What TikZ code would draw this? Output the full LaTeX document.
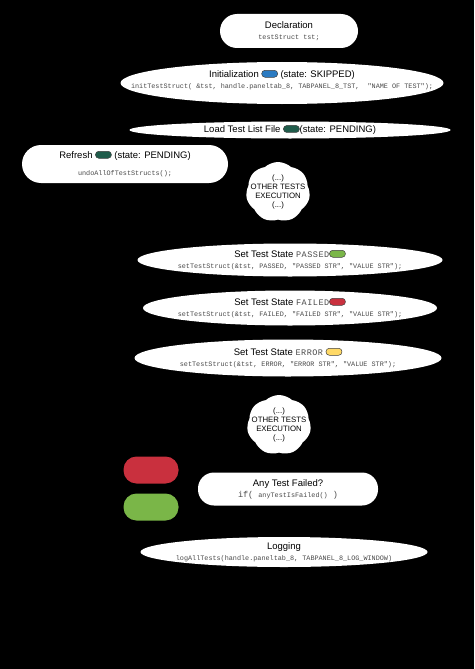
\documentclass[tikz,border=0pt]{standalone}
\usepackage{fontspec}
\setmainfont{Liberation Sans}
\newfontfamily\codefont{Liberation Mono}
\newfontfamily\statefont[LetterSpace=6]{Liberation Mono}
\usetikzlibrary{shapes.geometric,shapes.symbols}

\definecolor{skipblue}{HTML}{2B7BC2}
\definecolor{pendgreen}{HTML}{1F5C4B}
\definecolor{passgreen}{HTML}{7AB648}
\definecolor{failred}{HTML}{C9303E}
\definecolor{erryellow}{HTML}{FFD966}
\definecolor{codegray}{HTML}{4A4A4A}

\newcommand{\pill}[1]{\tikz[baseline=-0.3pt]\filldraw[fill=#1,draw=black!75,line width=0.5pt,rounded corners=3.4pt] (0pt,0pt) rectangle (16pt,7pt);}
\newcommand{\titletxt}[1]{{\fontsize{9.5}{11}\selectfont #1}}
\newcommand{\codetxt}[1]{{\codefont\fontsize{6.8}{8}\selectfont\color{codegray}#1}}
\newcommand{\statetxt}[1]{{\statefont\fontsize{8.5}{10}\selectfont\color{codegray}#1}}

\begin{document}
\begin{tikzpicture}[x=1pt,y=-1pt,
    stage/.style={ellipse, fill=white, inner sep=0pt},
    roundstage/.style={rectangle, fill=white, inner sep=0pt},
    textin/.style={align=center, inner sep=0pt},
    othertests/.style={cloud, cloud puffs=7, cloud puff arc=85, aspect=1.1, fill=white, inner sep=0pt,
      minimum width=64pt, minimum height=60pt},
    flag/.style={rectangle, rounded corners=13pt, minimum width=55pt, minimum height=27pt}]
  \fill[black] (0,0) rectangle (474,669);
  \useasboundingbox (0,0) rectangle (474,669);

  % stages
  \node[roundstage, rounded corners=17pt, minimum width=138pt, minimum height=34pt,
    label={[textin]center:{\titletxt{Declaration}\\[-1pt]\codetxt{testStruct tst;}}}]
    (decl) at (289,31) {};
  \node[stage, minimum width=323pt, minimum height=42pt,
    label={[textin, yshift=3pt]center:{\titletxt{Initialization \pill{skipblue} (state: SKIPPED)}\\[-1pt]%
      \codetxt{initTestStruct( \&tst, handle.paneltab\_8, TABPANEL\_8\_TST,~~"NAME OF TEST");}}}]
    (init) at (282,83) {};
  \node[stage, minimum width=321pt, minimum height=17pt,
    label={[textin]center:{\titletxt{Load Test List File \pill{pendgreen}(state: PENDING)}}}]
    (load) at (290,130) {};
  \node[roundstage, rounded corners=19pt, minimum width=206pt, minimum height=38pt,
    label={[textin]center:{\titletxt{Refresh \pill{pendgreen} (state: PENDING)}\\[5pt]\codetxt{undoAllOfTestStructs();}}}]
    (refresh) at (125,164) {};
  \node[othertests, label={[textin, font=\fontsize{7.8}{9}\selectfont]center:{(...)\\OTHER TESTS\\EXECUTION\\(...)}}]
    (other1) at (278,192) {};

  \node[stage, minimum width=305pt, minimum height=33pt,
    label={[textin]center:{\titletxt{Set Test State \statetxt{PASSED}\pill{passgreen}}\\[-1pt]%
      \codetxt{setTestStruct(\&tst, PASSED, "PASSED STR", "VALUE STR");}}}]
    (passed) at (290,260) {};
  \node[stage, minimum width=294pt, minimum height=35pt,
    label={[textin]center:{\titletxt{Set Test State \statetxt{FAILED}\pill{failred}}\\[-1pt]%
      \codetxt{setTestStruct(\&tst, FAILED, "FAILED STR", "VALUE STR");}}}]
    (failed) at (290,308) {};
  \node[stage, minimum width=307pt, minimum height=37pt,
    label={[textin]center:{\titletxt{Set Test State \statetxt{ERROR} \pill{erryellow}}\\[-1pt]%
      \codetxt{setTestStruct(\&tst, ERROR, "ERROR STR", "VALUE STR");}}}]
    (error) at (288,358) {};
  \node[othertests, label={[textin, font=\fontsize{7.8}{9}\selectfont]center:{(...)\\OTHER TESTS\\EXECUTION\\(...)}}]
    (other2) at (279,425) {};

  % result
  \node[flag, fill=failred] (redflag) at (151,470) {};
  \node[flag, fill=passgreen] (greenflag) at (151,507) {};
  \node[roundstage, rounded corners=16pt, minimum width=180pt, minimum height=33pt,
    label={[textin]center:{\titletxt{Any Test Failed?}\\[-1pt]%
      {\codefont\fontsize{8.5}{10}\selectfont\color{codegray}if( \codetxt{anyTestIsFailed()} )}}}]
    (anyfail) at (288,489) {};
  \node[stage, minimum width=287pt, minimum height=30pt,
    label={[textin]center:{\titletxt{Logging}\\[-1pt]\codetxt{logAllTests(handle.paneltab\_8, TABPANEL\_8\_LOG\_WINDOW)}}}]
    (logging) at (284,552) {};
\end{tikzpicture}
\end{document}
